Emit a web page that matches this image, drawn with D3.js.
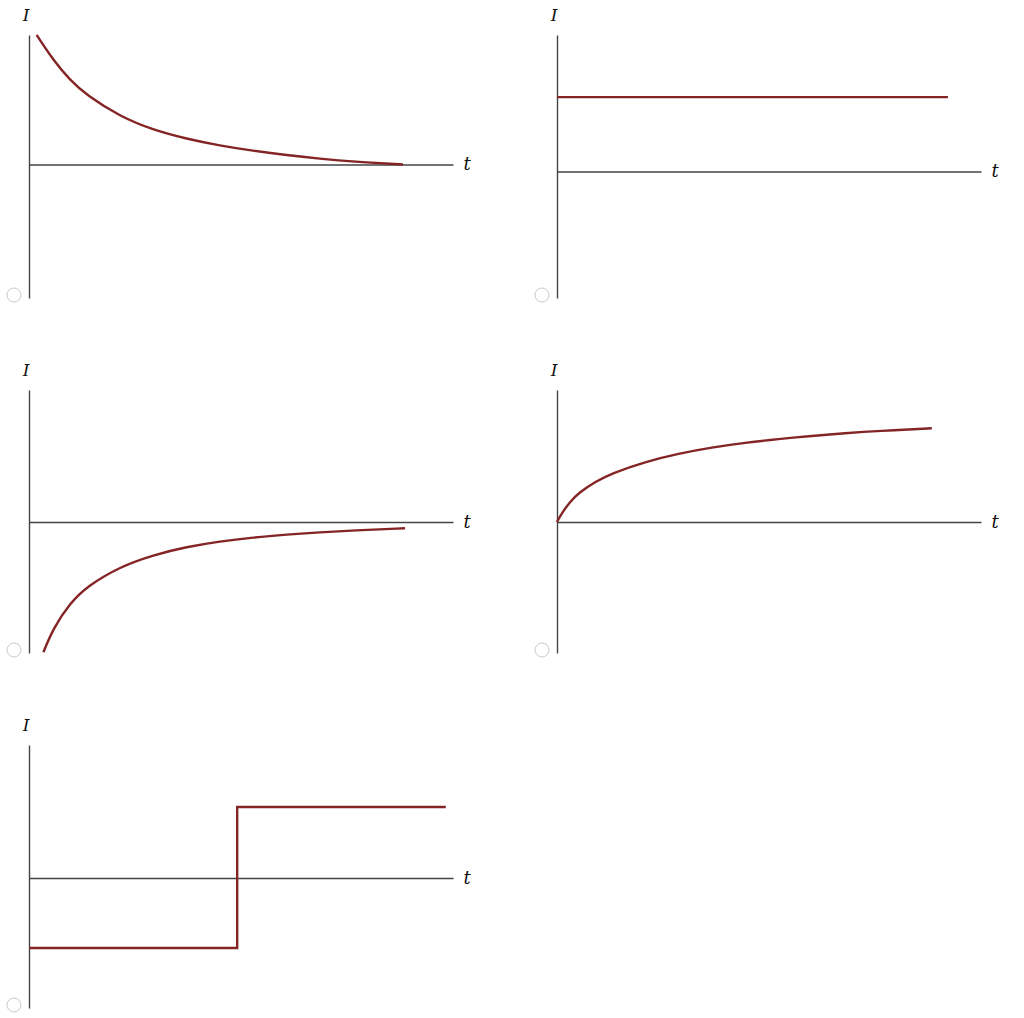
<!DOCTYPE html>
<html><head><meta charset="utf-8">
<script src="https://cdn.jsdelivr.net/npm/d3@7"></script>
<style>html,body{margin:0;padding:0;background:#fff;}svg{display:block;}</style>
</head><body>
<script>
// Data (t in arbitrary units 0..10, I in arbitrary units)
const decayT = [0.18,0.57,0.97,1.36,2.15,2.92,3.72,4.50,5.28,6.08,6.86,7.64,8.82];
const decayI = [1.0,0.806,0.651,0.535,0.370,0.268,0.198,0.146,0.106,0.072,0.045,0.022,0.0];
const constT = [0, 9.22];
const constI = [0.574, 0.574];
const negT = [0.34,0.57,0.97,1.36,2.15,2.93,3.72,4.50,5.29,6.08,6.86,7.65,8.87];
const negI = [-1.010,-0.824,-0.630,-0.501,-0.346,-0.256,-0.193,-0.150,-0.120,-0.098,-0.080,-0.066,-0.049];
const growT = [0,0.11,0.31,0.50,0.90,1.29,2.08,2.87,3.65,4.44,5.22,6.01,6.79,7.58,8.84];
const growI = [0,0.067,0.157,0.222,0.312,0.377,0.467,0.530,0.578,0.614,0.643,0.667,0.688,0.706,0.726];
const stepT = [0, 4.91, 9.83];
const stepI = [-0.543, 0.550, 0.550];
const axisLabels = {y: "I", x: "t"};

const panels = [
  {t: decayT, v: decayI, yDom: [-1.031, 1.0], left: 29, top: 35, curve: d3.curveBasis},
  {t: constT, v: constI, yDom: [-0.977, 1.054], left: 557, top: 35, curve: d3.curveLinear},
  {t: negT, v: negI, yDom: [-1.016, 1.023], left: 29, top: 390, curve: d3.curveBasis},
  {t: growT, v: growI, yDom: [-1.016, 1.023], left: 557, top: 390, curve: d3.curveBasis},
  {t: stepT, v: stepI, yDom: [-1.008, 1.031], left: 29, top: 745, curve: d3.curveStepAfter}
];

const W = 1024, H = 1018, axisW = 424, axisH = 263;
const svg = d3.select("body").append("svg").attr("width", W).attr("height", H);

panels.forEach(p => {
  const x = d3.scaleLinear().domain([0, 10]).range([p.left, p.left + axisW]);
  const y = d3.scaleLinear().domain(p.yDom).range([p.top + axisH, p.top]);
  const g = svg.append("g");

  const xa = g.append("g").attr("transform", `translate(0,${y(0)})`)
    .call(d3.axisBottom(x).tickValues([]).tickSizeOuter(0));
  const ya = g.append("g").attr("transform", `translate(${x(0)},0)`)
    .call(d3.axisLeft(y).tickValues([]).tickSizeOuter(0));
  [xa, ya].forEach(a => a.select(".domain").attr("stroke", "#444").attr("stroke-width", 1.4));

  g.append("text").attr("x", x(0) - 3).attr("y", p.top - 19)
    .attr("text-anchor", "middle").attr("dominant-baseline", "middle")
    .style("font-family", "'DejaVu Serif','Liberation Serif',serif").style("font-style", "italic")
    .style("font-size", "17px").attr("fill", "#111").text(axisLabels.y);
  g.append("text").attr("x", x(10) + 14).attr("y", y(0) + 1)
    .attr("text-anchor", "middle").attr("dominant-baseline", "middle")
    .style("font-family", "'DejaVu Serif','Liberation Serif',serif").style("font-style", "italic")
    .style("font-size", "18px").attr("fill", "#111").text(axisLabels.x);

  g.append("circle").attr("cx", x(0) - 15).attr("cy", p.top + axisH - 3).attr("r", 7)
    .attr("fill", "#fff").attr("stroke", "#c8c8c8").attr("stroke-width", 1);

  const pts = p.t.map((t, i) => [t, p.v[i]]);
  const line = d3.line().x(d => x(d[0])).y(d => y(d[1])).curve(p.curve);
  g.append("path").datum(pts).attr("d", line)
    .attr("fill", "none").attr("stroke", "#842424").attr("stroke-width", 2.4);
});
</script>
</body></html>
